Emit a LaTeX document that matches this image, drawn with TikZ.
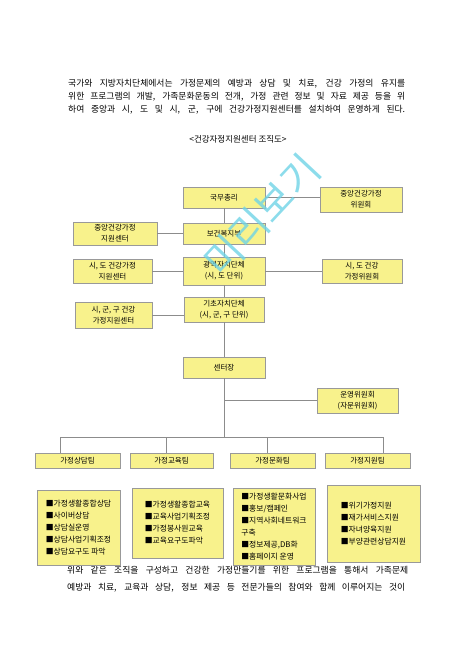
\documentclass[tikz,border=0pt]{standalone}
\usepackage{fontspec}
\setmainfont{Noto Sans CJK KR}
\definecolor{boxyellow}{HTML}{F8F28C}
\definecolor{linegray}{HTML}{8C8C8C}
\definecolor{markcyan}{HTML}{6FD3E6}
\tikzset{
  orgbox/.style={rectangle,fill=boxyellow,draw=black!40,line width=0.4pt,
    align=center,inner sep=1pt,font=\fontsize{7.5}{11}\selectfont},
  listbox/.style={rectangle,fill=boxyellow,draw=black!40,line width=0.4pt,
    align=left,inner sep=2pt,font=\fontsize{7.8}{12}\selectfont},
  wire/.style={draw=linegray,line width=0.6pt}
}
\begin{document}
\begin{tikzpicture}[x=1pt,y=-1pt]
  \useasboundingbox (0,0) rectangle (474,670);
  % text above and below
  \begin{scope}[every node/.style={anchor=west,inner sep=0pt,font=\fontsize{8.8}{10}\selectfont}]
    \node (par1) at (68,84) {\makebox[337pt][s]{국가와 지방자치단체에서는 가정문제의 예방과 상담 및 치료, 건강 가정의 유지를}};
    \node (par2) at (68,97) {\makebox[337pt][s]{위한 프로그램의 개발, 가족문화운동의 전개, 가정 관련 정보 및 자료 제공 등을 위}};
    \node (par3) at (68,110) {\makebox[337pt][s]{하여 중앙과 시, 도 및 시, 군, 구에 건강가정지원센터를 설치하여 운영하게 된다.}};
    \node (par4) at (67,570) {\makebox[341pt][s]{위와 같은 조직을 구성하고 건강한 가정만들기를 위한 프로그램을 통해서 가족문제}};
    \node (par5) at (67,588) {\makebox[338pt][s]{예방과 치료, 교육과 상담, 정보 제공 등 전문가들의 참여와 함께 이루어지는 것이}};
  \end{scope}
  \node[font=\fontsize{8.5}{10}\selectfont] (title) at (238,139) {<건강자정지원센터 조직도>};
  % boxes
  \begin{scope}[every node/.style={orgbox}]
    \node[minimum width=82pt,minimum height=21pt] (pm) at (224,197.5) {국무총리};
    \node[minimum width=82pt,minimum height=25pt] (cwc) at (361,199.5) {중앙건강가정\\위원회};
    \node[minimum width=84pt,minimum height=23pt] (csc) at (115,233.5) {중앙건강가정\\지원센터};
    \node[minimum width=82pt,minimum height=21pt] (mohw) at (224,233.5) {보건복지부};
    \node[minimum width=79pt,minimum height=24pt] (psc) at (112.5,271) {시, 도 건강가정\\지원센터};
    \node[minimum width=82pt,minimum height=28pt] (metro) at (224,271) {광역자치단체\\(시, 도 단위)};
    \node[minimum width=80pt,minimum height=24pt] (pcom) at (362,271) {시, 도 건강\\가정위원회};
    \node[minimum width=77pt,minimum height=26pt] (lsc) at (113.5,315) {시, 군, 구 건강\\가정지원센터};
    \node[minimum width=80pt,minimum height=25pt] (local) at (224,309.5) {기초자치단체\\(시, 군, 구 단위)};
    \node[minimum width=82pt,minimum height=21pt] (dir) at (224,367.5) {센터장};
    \node[minimum width=81pt,minimum height=25pt] (opc) at (357.5,400.5) {운영위원회\\(자문위원회)};
    \node[minimum width=85pt,minimum height=15pt] (team1) at (77.5,460.5) {가정상담팀};
    \node[minimum width=83pt,minimum height=15pt] (team2) at (171.5,460.5) {가정교육팀};
    \node[minimum width=85pt,minimum height=15pt] (team3) at (272.5,460.5) {가정문화팀};
    \node[minimum width=85pt,minimum height=15pt] (team4) at (367.5,460.5) {가정지원팀};
  \end{scope}
  \node[listbox,minimum width=83pt,minimum height=75pt] (work1) at (78.5,527.5)
    {■가정생활종합상담\\■사이버상담\\■상담실운영\\■상담사업기획조정\\■상담요구도 파악};
  \node[listbox,minimum width=91pt,minimum height=70pt] (work2) at (177.5,523)
    {■가정생활종합교육\\■교육사업기획조정\\■가정봉사원교육\\■교육요구도파악};
  \node[listbox,minimum width=82pt,minimum height=77pt] (work3) at (274,526.5)
    {■가정생활문화사업\\■홍보/캠페인\\■지역사회네트워크\\구축\\■정보제공,DB화\\■홈페이지 운영};
  \node[listbox,minimum width=93pt,minimum height=77pt] (work4) at (373.5,523.5)
    {■위기가정지원\\■재가서비스지원\\■자녀양육지원\\■부양관련상담지원};
  % connectors
  \coordinate (bar) at (224,437);
  \coordinate (drop1) at (60,437);
  \coordinate (drop2) at (166,437);
  \coordinate (drop3) at (267,437);
  \coordinate (drop4) at (383,437);
  \draw[wire] (pm) edge (mohw);
  \draw[wire] (mohw) edge (metro);
  \draw[wire] (metro) edge (local);
  \draw[wire] (local) edge (dir);
  \draw[wire] (dir) edge (bar);
  \draw[wire] (pm.east) -- (pm.east -| cwc.west);
  \draw[wire] (csc.east) -- (csc.east -| mohw.west);
  \draw[wire] (psc.east) -- (psc.east -| metro.west);
  \draw[wire] (metro.east) -- (metro.east -| pcom.west);
  \draw[wire] (lsc.east) -- (lsc.east -| local.west);
  \draw[wire] (opc.west) -- (opc.west -| bar);
  \draw[wire] (drop1) -- (drop4);
  \draw[wire] (drop1) -- (drop1 |- team1.north);
  \draw[wire] (drop2) -- (drop2 |- team2.north);
  \draw[wire] (drop3) -- (drop3 |- team3.north);
  \draw[wire] (drop4) -- (drop4 |- team4.north);
  % watermark
  \node[text=markcyan,opacity=0.8,rotate=47,font=\fontsize{40}{40}\selectfont] (mark) at (262,215) {미리보기};
\end{tikzpicture}
\end{document}
